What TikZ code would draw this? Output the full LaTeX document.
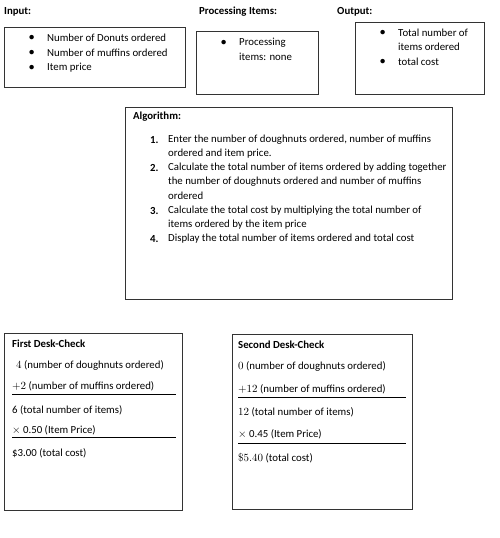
\documentclass[tikz,border=0pt]{standalone}
\usepackage{fontspec}
\setmainfont{Carlito}
\usetikzlibrary{positioning}
\tikzset{
  % riquadri
  box/.style={draw=black!80,line width=0.8pt,anchor=north west,inner sep=0pt},
  % testi
  head/.style={anchor=west,inner sep=0pt,font=\fontsize{10.8}{12}\selectfont\bfseries},
  txt/.style={anchor=west,inner sep=0pt,font=\fontsize{10.8}{12}\selectfont},
  dot/.style={anchor=west,inner sep=0pt,font=\fontsize{10.5}{12}\selectfont\bfseries,text=black},
  num/.style={anchor=west,inner sep=0pt,font=\fontsize{10.8}{12}\selectfont\bfseries},
  rule/.style={black,line width=0.8pt}
}
\begin{document}
\begin{tikzpicture}[x=1pt,y=-1pt]
  \useasboundingbox (0,0) rectangle (499,538);
  % titoli
  \node[head] (tin) at (4,12) {Input:};
  \node[head] (tproc) at (199,12) {Processing Items:};
  \node[head] (tout) at (337,12) {Output:};
  % input
  \node[box,minimum width=181,minimum height=60] (input) at (4,27) {};
  \foreach \t [count=\i] in {Number of Donuts ordered,Number of muffins ordered,Item price}{
    \node[dot] (ib\i) at (29,{23+15*\i}) {•};
    \node[txt] (it\i) at (47,{23+15*\i}) {\t};
  }
  % processing
  \node[box,minimum width=122,minimum height=63] (proc) at (196,31) {};
  \node[dot] (pb1) at (221,43) {•};
  \node[txt] (pt1) at (239,43) {Processing};
  \node[txt] (pt2) at (239,57) {items: none};
  % output
  \node[box,minimum width=129,minimum height=72] (out) at (355,22) {};
  \node[dot] (ob1) at (380,33) {•};
  \node[txt] (ot1) at (398,33) {Total number of};
  \node[txt] (ot2) at (398,47) {items ordered};
  \node[dot] (ob2) at (380,62) {•};
  \node[txt] (ot3) at (398,62) {total cost};
  % algoritmo
  \node[box,minimum width=327,minimum height=192] (algo) at (125,107) {};
  \node[head] (talgo) at (133,117) {Algorithm:};
  \node[num] (n1) at (150,140) {1.};
  \node[num] (n2) at (150,168) {2.};
  \node[num] (n3) at (150,211) {3.};
  \node[num] (n4) at (150,239) {4.};
  \foreach \t/\y in {Enter the number of doughnuts ordered{,} number of muffins/140,
      ordered and item price./154,
      Calculate the total number of items ordered by adding together/168,
      the number of doughnuts ordered and number of muffins/182,
      ordered/196,
      Calculate the total cost by multiplying the total number of/211,
      items ordered by the item price/225,
      Display the total number of items ordered and total cost/239}{
    \node[txt] at (168,\y) {\t};
  }
  % primo desk-check
  \node[box,minimum width=178,minimum height=177] (dc1) at (4,333) {};
  \node[head] (tdc1) at (12,344) {First Desk-Check};
  \node[txt] (a1) at (16,365) {$4$ (number of doughnuts ordered)};
  \node[txt] (a2) at (12,386) {$+2$ (number of muffins ordered)};
  \draw[rule] (12,394) -- (176,394);
  \node[txt] (a3) at (12,410) {6 (total number of items)};
  \node[txt] (a4) at (12,430) {$\times$ 0.50 (Item Price)};
  \draw[rule] (12,437) -- (176,437);
  \node[txt] (a5) at (12,453) {\$3.00 (total cost)};
  % secondo desk-check
  \node[box,minimum width=180,minimum height=175] (dc2) at (232,334) {};
  \node[head] (tdc2) at (238,345) {Second Desk-Check};
  \node[txt] (b1) at (238,366) {$0$ (number of doughnuts ordered)};
  \node[txt] (b2) at (238,389) {$+12$ (number of muffins ordered)};
  \draw[rule] (238,397) -- (406,397);
  \node[txt] (b3) at (238,412) {$12$ (total number of items)};
  \node[txt] (b4) at (238,434) {$\times$ 0.45 (Item Price)};
  \draw[rule] (238,443) -- (406,443);
  \node[txt] (b5) at (238,458) {$\$5.40$ (total cost)};
\end{tikzpicture}
\end{document}
